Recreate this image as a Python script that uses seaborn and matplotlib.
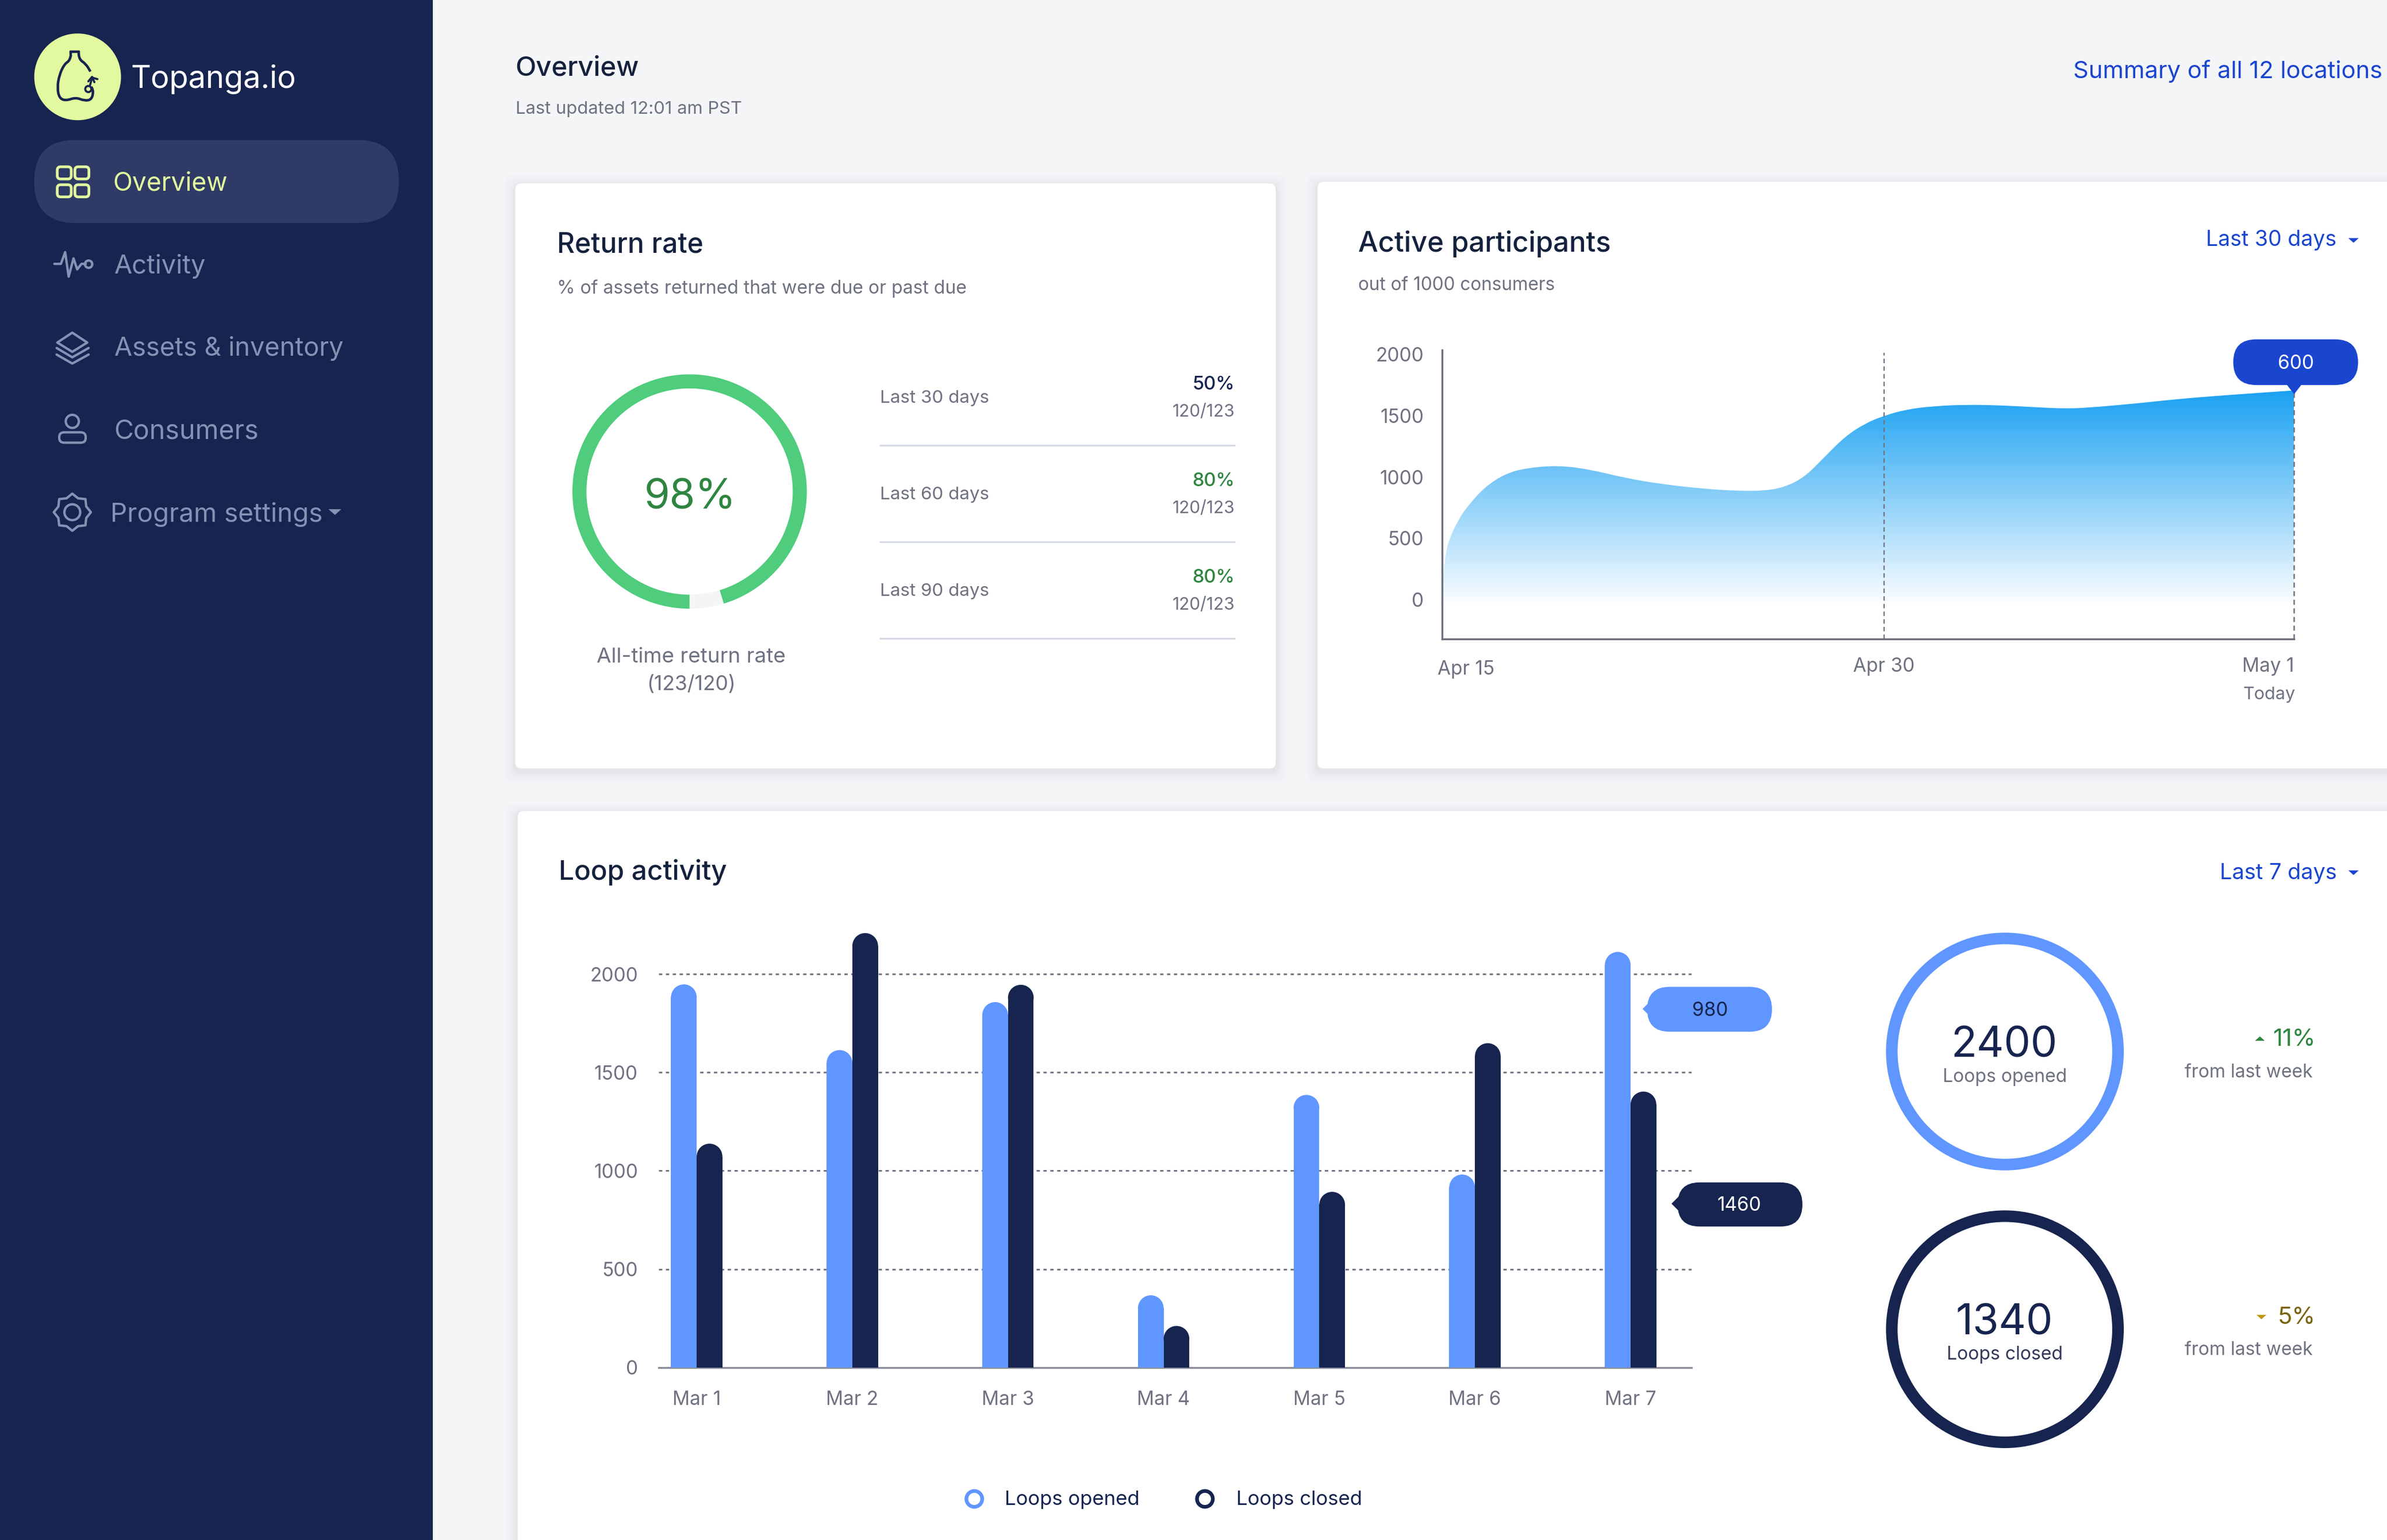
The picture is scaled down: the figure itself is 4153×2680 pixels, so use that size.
import numpy as np
import pandas as pd
import seaborn as sns
import matplotlib.pyplot as plt
from matplotlib.colors import LinearSegmentedColormap
from matplotlib.patches import Circle, Ellipse, FancyBboxPatch, PathPatch, Polygon
from matplotlib.path import Path
from matplotlib.transforms import ScaledTranslation

# layout is worked out in the 1568x1012 preview of the mockup
W, H = 1568, 1012

NAVY = '#16244F'
LIME = '#E2F99F'
MUTED = '#8492B4'
GREY = '#6E7180'
BLUE = '#1A45CF'
LIGHT_BLUE = '#6096FF'
GREEN = '#2E8540'
RING_GREEN = '#4FCC7C'
PAGE = '#F4F5F7'
INK = '#14213D'

# Loop activity bars
days = ['Mar 1', 'Mar 2', 'Mar 3', 'Mar 4', 'Mar 5', 'Mar 6', 'Mar 7']
loops_opened = [1948, 1614, 1858, 367, 1386, 981, 2113]
loops_closed = [1138, 2209, 1946, 211, 893, 1649, 1403]
loop_ticks = [0, 500, 1000, 1500, 2000]

# Active participants area, x is days since Apr 15 on the drawn axis
area_x = [0, 0.08, 0.19, 0.55, 0.91, 1.51, 2.22, 2.94, 4.02, 5.10, 6.53, 7.73, 9.16, 10.36, 11.32,
          12.03, 12.75, 13.47, 14.19, 14.90, 15.55, 16.34, 17.30, 18.49, 19.69, 20.89, 21.96,
          22.80, 24.47, 25.91, 27.58, 30]
area_y = [100, 300, 463, 646, 768, 921, 1027, 1073, 1095, 1067, 988, 942, 905, 887, 887,
          915, 997, 1165, 1332, 1439, 1500, 1552, 1579, 1591, 1585, 1570, 1558,
          1567, 1601, 1637, 1668, 1707]
area_ticks = [0, 500, 1000, 1500, 2000]
area_dates = ['Apr 15', 'Apr 30', 'May 1']
area_date_x = [0, 15.55, 30]

# Return rate card
ring_shares = [95.3, 4.7]
periods = ['Last 30 days', 'Last 60 days', 'Last 90 days']
period_rates = ['50%', '80%', '80%']
period_counts = ['120/123', '120/123', '120/123']

nav_items = ['Activity', 'Assets & inventory', 'Consumers', 'Program settings']
nav_sizes = [32.6, 32.5, 33.5, 33]


def add_axes(x0, y0, x1, y1, **kw):
    return fig.add_axes([x0 / W, 1 - y1 / H, (x1 - x0) / W, (y1 - y0) / H], **kw)


def smooth(points):
    # quadratic spline through the midpoints of the given points
    pts = np.asarray(points, dtype=float)
    verts = [pts[0]]
    codes = [Path.MOVETO]
    for a, b in zip(pts[1:-1], pts[2:]):
        verts += [a, (a + b) / 2]
        codes += [Path.CURVE3, Path.CURVE3]
    verts.append(pts[-1])
    codes.append(Path.LINETO)
    return Path(verts, codes)


def text(x, y, s, size, color=GREY, ha='left', weight='normal', ax=None):
    # va center sits a little high on the glyphs, more so for big text
    (ax or bg).text(x, y + size * 0.05, s, fontsize=size, color=color, ha=ha, va='center', weight=weight)


def rbox(ax, x0, y0, x1, y1, r, **kw):
    ax.add_patch(FancyBboxPatch((x0 + r, y0 + r), x1 - x0 - 2 * r, y1 - y0 - 2 * r,
                                boxstyle=f'round,pad={r},rounding_size={r}', **kw))


def card(x0, y0, x1, y1):
    for grow, alpha in [(7, 0.012), (5, 0.015), (3, 0.02), (1.5, 0.03)]:
        rbox(bg, x0 - grow, y0 - grow + 2, x1 + grow, y1 + grow + 2, 5, fc='#2A3350', ec='none', alpha=alpha)
    rbox(bg, x0, y0, x1, y1, 4, fc='white', ec='none')


def caret(x, y, color, up=False, size=3.4):
    tip = y - size * 0.45 if up else y + size * 0.45
    base = y + size * 0.45 if up else y - size * 0.45
    bg.add_patch(Polygon([(x - size, base), (x + size, base), (x, tip)], fc=color, ec='none'))


def bubble(x0, y0, x1, y1, tip, color):
    top.add_patch(Polygon(tip, fc=color, ec='none'))
    rbox(top, x0, y0, x1, y1, (y1 - y0) / 2, fc=color, ec='none')


sns.set_theme(style='white')
plt.rcParams['font.family'] = ['Inter', 'DejaVu Sans']

fig = plt.figure(figsize=(41.53, 26.80), dpi=100, facecolor=PAGE)

bg = fig.add_axes([0, 0, 1, 1], zorder=0)
bg.set_xlim(0, W)
bg.set_ylim(H, 0)
bg.axis('off')
top = fig.add_axes([0, 0, 1, 1], zorder=5)
top.set_xlim(0, W)
top.set_ylim(H, 0)
top.axis('off')

# sidebar
bg.add_patch(plt.Rectangle((0, 0), 284.3, H, fc=NAVY, ec='none'))
bg.add_patch(Circle((51, 50.5), 28.5, fc=LIME, ec='none'))
jug = [(46.6, 36), (46, 39.7), (42.3, 42.1), (38.9, 49.4), (37.6, 57.8), (39, 64.5), (43.2, 66.2),
       (49.8, 64), (55.4, 66.2), (60.1, 65.5), (61.4, 60.2), (60, 57)]
bg.add_patch(PathPatch(smooth(jug), fc='none', ec=NAVY, lw=3.2))
bg.add_patch(PathPatch(smooth([(51.8, 36), (52, 39), (56.4, 42), (59.4, 47)]), fc='none', ec=NAVY, lw=3.2))
bg.plot([46.6, 51.8], [33.9, 33.9], color=NAVY, lw=3.2)
bg.plot([46.6, 46.6], [33.9, 36], color=NAVY, lw=3.2)
bg.plot([51.8, 51.8], [33.9, 36], color=NAVY, lw=3.2)
bg.add_patch(Circle((58, 58.5), 2, fc='none', ec=NAVY, lw=2.6))
bg.plot([59, 60.5, 64], [56.5, 51, 52], color=NAVY, lw=2.6)
bg.plot([58, 60.5, 62], [53.5, 50.5, 54], color=NAVY, lw=2.6)
text(86, 50, 'Topanga.io', 39, 'white')

rbox(bg, 22.5, 92, 262, 146.5, 27, fc='#2F3B66', ec='none')
for sx in (37.6, 49.2):
    for sy in (109.6, 121.4):
        rbox(bg, sx, sy, sx + 9.2, sy + 8, 2.2, fc='none', ec=LIME, lw=3.4)
text(74, 119, 'Overview', 32, LIME)

for name, size, y, x in zip(nav_items, nav_sizes, [173.5, 227.5, 282, 336.5], [75, 75, 75, 72.5]):
    text(x, y, name, size, MUTED)
caret(220, 336.5, MUTED, size=4.2)

bg.plot([35.7, 40, 42.8, 45.1, 48.3, 50.7, 53.5, 56.3], [173.4, 173.4, 165.7, 181.8, 169.8, 177, 173.4, 173.4],
        color=MUTED, lw=3, solid_joinstyle='round')
bg.add_patch(Circle((58.2, 173.6), 2.4, fc='none', ec=MUTED, lw=3))
bg.add_patch(Polygon([(47.5, 218.6), (57.3, 225.1), (47.5, 231.2), (37.6, 225.1)], fc='none', ec=MUTED, lw=3, joinstyle='round'))
bg.plot([37.2, 47.5, 58.2], [228.7, 234.8, 228.7], color=MUTED, lw=3)
bg.plot([37.2, 47.5, 58.2], [233, 238.9, 233], color=MUTED, lw=3)
bg.add_patch(Circle((47.5, 276.9), 4.3, fc='none', ec=MUTED, lw=3))
rbox(bg, 38.9, 284.1, 56.3, 290.9, 3.2, fc='none', ec=MUTED, lw=3)
gear_t = np.linspace(0, 2 * np.pi, 16, endpoint=False) + np.pi / 8
gear_r = np.where(np.arange(16) % 2 == 0, 9.9, 12.2)
bg.add_patch(Polygon(np.c_[47.5 + gear_r * np.cos(gear_t), 336.6 + gear_r * np.sin(gear_t)], fc='none', ec=MUTED, lw=3, joinstyle='round'))
bg.add_patch(Circle((47.5, 336.6), 5.2, fc='none', ec=MUTED, lw=3))

# page header
text(338.5, 43.5, 'Overview', 34, INK, weight='medium')
text(338.5, 70.5, 'Last updated 12:01 am PST', 22.3, GREY)
text(1565, 45.5, 'Summary of all 12 locations', 30, BLUE, ha='right')

card(338.5, 120.5, 838, 505)
card(865.5, 119.5, 1590, 505)
card(340, 533, 1590, 1040)

# return rate card
text(366, 159.5, 'Return rate', 34.5, INK, weight='medium')
text(366, 188.5, '% of assets returned that were due or past due', 23, GREY)
ring_ax = add_axes(376, 246, 530, 400)
ring_ax.pie(ring_shares, colors=[RING_GREEN, PAGE], startangle=270, counterclock=False, radius=1,
            wedgeprops=dict(width=0.12, linewidth=0))
ring_ax.set_xlim(-1, 1)
ring_ax.set_ylim(-1, 1)
text(453.5, 324.5, '98%', 52, GREEN, ha='center')
text(454, 430.5, 'All-time return rate', 26.5, GREY, ha='center')
text(454, 448.5, '(123/120)', 25.5, GREY, ha='center')
rate_colors = [NAVY, GREEN, GREEN]
for i, (name, rate, count) in enumerate(zip(periods, period_rates, period_counts)):
    y = 260.5 + i * 63.5
    text(578, y, name, 22.6, GREY)
    text(811, y - 9, rate, 23.5, rate_colors[i], ha='right', weight='medium')
    text(811, y + 9, count, 21.5, GREY, ha='right')
    bg.plot([578, 811], [y + 32, y + 32], color='#D4DAE6', lw=2.2)

# active participants card
text(892, 158.5, 'Active participants', 35.3, INK, weight='medium')
text(892, 186.5, 'out of 1000 consumers', 22.7, GREY)
text(1535, 156.5, 'Last 30 days', 27, BLUE, ha='right')
caret(1546, 158, BLUE)

area_ax = add_axes(947.4, 230, 1507, 420)
area_ax.patch.set_alpha(0)
cmap = LinearSegmentedColormap.from_list('area', ['white', '#1AA1F2'])
grad = area_ax.imshow(np.linspace(1, 0, 256).reshape(-1, 1), cmap=cmap, aspect='auto',
                      extent=(0, 30, -60, max(area_y)), zorder=1)
area_ax.set_xlim(0, 30)
area_ax.set_ylim(-323, 2037)
outline = smooth(list(zip(area_x, area_y)))
clip_verts = np.vstack([outline.vertices, [(30, -323), (0, -323), (0, area_y[0])]])
clip_codes = list(outline.codes) + [Path.LINETO, Path.LINETO, Path.LINETO]
grad.set_clip_path(PathPatch(Path(clip_verts, clip_codes), transform=area_ax.transData))
sns.despine(ax=area_ax)
for side in ('left', 'bottom'):
    area_ax.spines[side].set_color(GREY)
    area_ax.spines[side].set_linewidth(2.4)
area_ax.set_yticks(area_ticks)
area_ax.set_xticks(area_date_x, labels=area_dates)
area_ax.tick_params(axis='y', length=0, pad=23, labelsize=24, labelcolor=GREY)
area_ax.tick_params(axis='x', length=0, pad=23, labelsize=24, labelcolor=GREY)
area_labels = area_ax.get_xticklabels()
area_labels[0].set_ha('left')
area_labels[0].set_transform(area_labels[0].get_transform() + ScaledTranslation(-0.08, -0.05, fig.dpi_scale_trans))
area_labels[2].set_ha('right')
area_ax.axvline(15.55, color=GREY, lw=1.6, ls=(0, (3.5, 2.5)), ymax=0.99, zorder=3)
area_ax.axvline(30, color=GREY, lw=1.8, ls=(0, (3.5, 2.5)), clip_on=False, zorder=3)
text(1508, 455.5, 'Today', 22, GREY, ha='right')
bubble(1467, 223, 1549, 253, [(1500, 250), (1514, 250), (1507, 259)], BLUE)
text(1508, 238, '600', 24, 'white', ha='center', ax=top)

# loop activity card
text(367, 571.5, 'Loop activity', 34.3, INK, weight='medium')
text(1535, 572.5, 'Last 7 days', 27.3, BLUE, ha='right')
caret(1546, 573.5, BLUE)

loops = pd.DataFrame({
    'day': days * 2,
    'series': ['Loops opened'] * len(days) + ['Loops closed'] * len(days),
    'value': loops_opened + loops_closed,
})
bar_box = (432.7, 601.4, 1111, 898.6)
bar_ax = add_axes(*bar_box)
bar_ax.patch.set_alpha(0)
sns.barplot(data=loops, x='day', y='value', hue='series', palette=[LIGHT_BLUE, NAVY], width=0.33, gap=0,
            saturation=1, legend=False, linewidth=0, ax=bar_ax, zorder=3)
x_lim = (-0.244, 6.39)
y_lim = (0, 2300)
bar_ax.set_xlim(*x_lim)
bar_ax.set_ylim(*y_lim)
units_x = (x_lim[1] - x_lim[0]) / (bar_box[2] - bar_box[0])
units_y = (y_lim[1] - y_lim[0]) / (bar_box[3] - bar_box[1])
for bar in list(bar_ax.patches):
    # round the top of each bar with a half circle of its own width
    w = bar.get_width()
    cap = w / 2 / units_x * units_y
    h = bar.get_height()
    bar.set_height(h - cap)
    bar_ax.add_patch(Ellipse((bar.get_x() + w / 2, h - cap), w, 2 * cap, fc=bar.get_facecolor(), ec='none', zorder=3))
sns.despine(ax=bar_ax, left=True)
bar_ax.spines['bottom'].set_color('#8A8D99')
bar_ax.spines['bottom'].set_linewidth(2.4)
bar_ax.set_xlabel('')
bar_ax.set_ylabel('')
bar_ax.set_yticks(loop_ticks)
bar_ax.yaxis.grid(True, color=GREY, lw=2, ls=(0, (2.1, 2.2)))
bar_ax.set_axisbelow(True)
bar_ax.tick_params(axis='y', length=0, pad=26, labelsize=24, labelcolor=GREY)
bar_ax.tick_params(axis='x', length=0, pad=29, labelsize=24, labelcolor=GREY)

bubble(1082, 648.5, 1164, 678, [(1086, 656), (1086, 670), (1079, 663)], LIGHT_BLUE)
text(1123.5, 663, '980', 24, NAVY, ha='center', ax=top)
bubble(1102, 777, 1184, 806, [(1105, 784), (1105, 798), (1098, 791)], NAVY)
text(1142.5, 791, '1460', 24, 'white', ha='center', ax=top)

# totals
for y, color, total, name, name_color in [(691, LIGHT_BLUE, '2400', 'Loops opened', GREY),
                                          (873.5, NAVY, '1340', 'Loops closed', '#33395A')]:
    bg.add_patch(Circle((1317, y), 74.3, fc='none', ec=color, lw=14.5))
    text(1316.5, y - 6.5, total, 53, NAVY, ha='center')
    text(1317, y + 15.5, name, 23, name_color, ha='center')

caret(1484.5, 682.5, GREEN, up=True, size=3.2)
text(1521, 681.5, '11%', 30, GREEN, ha='right')
text(1477, 703.5, 'from last week', 23, GREY, ha='center')
caret(1485.5, 865.5, '#C0960F', size=3.2)
text(1521, 864.5, '5%', 30, '#7A6412', ha='right')
text(1477, 886, 'from last week', 23, GREY, ha='center')

# legend
for x, color, name, tx in [(640, LIGHT_BLUE, 'Loops opened', 660), (791.5, NAVY, 'Loops closed', 812)]:
    bg.add_patch(Circle((x, 985), 5.2, fc='none', ec=color, lw=4.6))
    text(tx, 984.5, name, 25, NAVY)

fig.savefig('out.png', dpi=100, facecolor=PAGE)
